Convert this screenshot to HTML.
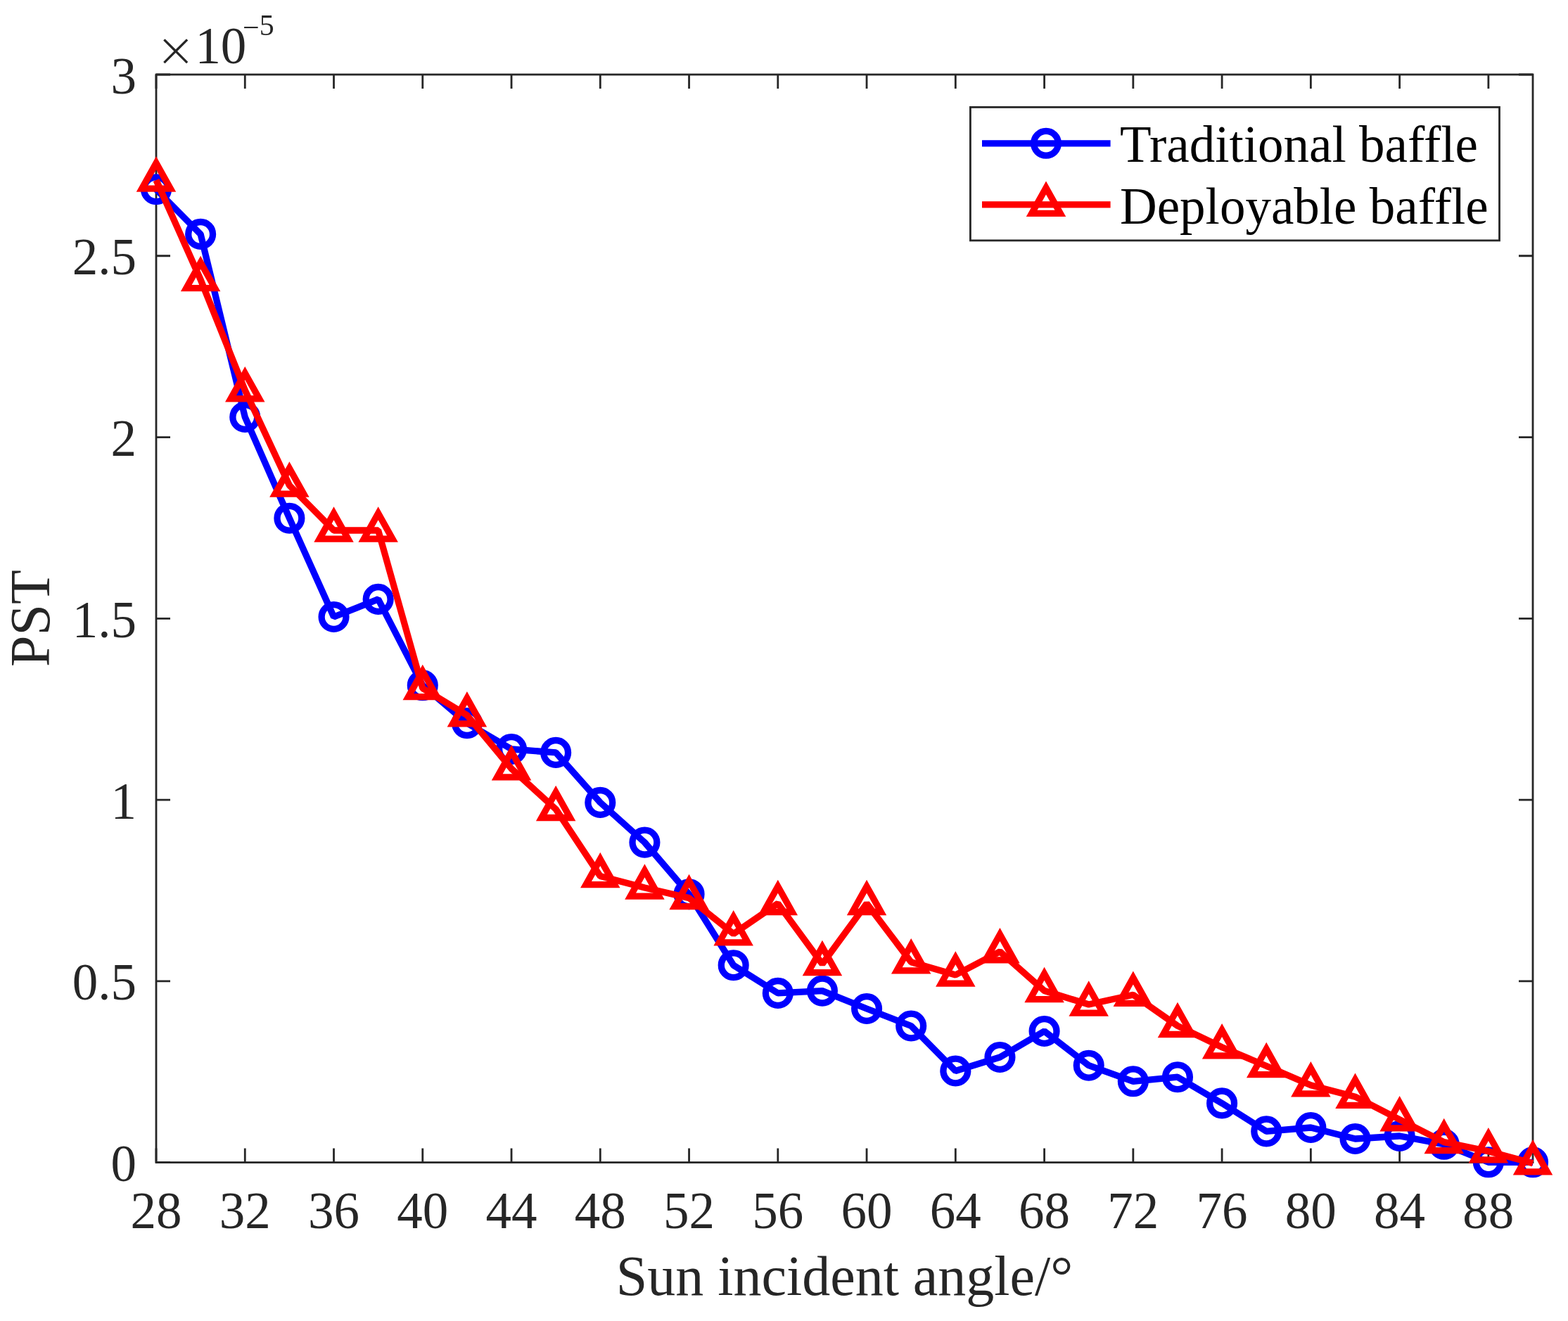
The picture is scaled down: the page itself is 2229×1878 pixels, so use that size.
<!DOCTYPE html><html><head><meta charset="utf-8"><title>PST vs Sun incident angle</title><style>html,body{margin:0;padding:0;background:#fff;overflow:hidden}svg{display:block}</style></head><body><svg width="2229" height="1878" viewBox="0 0 2229 1878">
<rect width="2229" height="1878" fill="#fff"/>
<g stroke="#262626" stroke-width="2.8" fill="none" stroke-linecap="square">
<rect x="222.0" y="106.0" width="1957.0" height="1546.6"/>
<path d="M222.00,1652.6V1632.6M222.00,106.0V126.0M348.26,1652.6V1632.6M348.26,106.0V126.0M474.52,1652.6V1632.6M474.52,106.0V126.0M600.77,1652.6V1632.6M600.77,106.0V126.0M727.03,1652.6V1632.6M727.03,106.0V126.0M853.29,1652.6V1632.6M853.29,106.0V126.0M979.55,1652.6V1632.6M979.55,106.0V126.0M1105.81,1652.6V1632.6M1105.81,106.0V126.0M1232.06,1652.6V1632.6M1232.06,106.0V126.0M1358.32,1652.6V1632.6M1358.32,106.0V126.0M1484.58,1652.6V1632.6M1484.58,106.0V126.0M1610.84,1652.6V1632.6M1610.84,106.0V126.0M1737.10,1652.6V1632.6M1737.10,106.0V126.0M1863.35,1652.6V1632.6M1863.35,106.0V126.0M1989.61,1652.6V1632.6M1989.61,106.0V126.0M2115.87,1652.6V1632.6M2115.87,106.0V126.0M222.0,1652.60H242.0M2179.0,1652.60H2159.0M222.0,1394.83H242.0M2179.0,1394.83H2159.0M222.0,1137.07H242.0M2179.0,1137.07H2159.0M222.0,879.30H242.0M2179.0,879.30H2159.0M222.0,621.53H242.0M2179.0,621.53H2159.0M222.0,363.77H242.0M2179.0,363.77H2159.0M222.0,106.00H242.0M2179.0,106.00H2159.0" stroke-linecap="butt"/>
</g>
<g font-family="Liberation Serif, Times New Roman, serif" font-size="73" fill="#262626">
<text x="222.00" y="1745.5" text-anchor="middle">28</text>
<text x="348.26" y="1745.5" text-anchor="middle">32</text>
<text x="474.52" y="1745.5" text-anchor="middle">36</text>
<text x="600.77" y="1745.5" text-anchor="middle">40</text>
<text x="727.03" y="1745.5" text-anchor="middle">44</text>
<text x="853.29" y="1745.5" text-anchor="middle">48</text>
<text x="979.55" y="1745.5" text-anchor="middle">52</text>
<text x="1105.81" y="1745.5" text-anchor="middle">56</text>
<text x="1232.06" y="1745.5" text-anchor="middle">60</text>
<text x="1358.32" y="1745.5" text-anchor="middle">64</text>
<text x="1484.58" y="1745.5" text-anchor="middle">68</text>
<text x="1610.84" y="1745.5" text-anchor="middle">72</text>
<text x="1737.10" y="1745.5" text-anchor="middle">76</text>
<text x="1863.35" y="1745.5" text-anchor="middle">80</text>
<text x="1989.61" y="1745.5" text-anchor="middle">84</text>
<text x="2115.87" y="1745.5" text-anchor="middle">88</text>
<text x="194" y="1679.10" text-anchor="end">0</text>
<text x="194" y="1421.33" text-anchor="end">0.5</text>
<text x="194" y="1163.57" text-anchor="end">1</text>
<text x="194" y="905.80" text-anchor="end">1.5</text>
<text x="194" y="648.03" text-anchor="end">2</text>
<text x="194" y="390.27" text-anchor="end">2.5</text>
<text x="194" y="132.50" text-anchor="end">3</text>
</g>
<text font-family="DejaVu Sans, sans-serif" font-weight="200" font-size="68" fill="#262626" x="221.3" y="94.2">&#215;</text>
<text font-family="Liberation Serif, Times New Roman, serif" font-size="73" fill="#262626" y="90"><tspan x="277.5">1</tspan><tspan x="313.8">0</tspan></text>
<text font-family="Liberation Serif, Times New Roman, serif" font-size="42" fill="#262626" y="50"><tspan x="345" dy="3.4">&#8722;</tspan><tspan dy="-3.4">5</tspan></text>
<text font-family="Liberation Serif, Times New Roman, serif" font-size="80" fill="#262626" x="1200.5" y="1841" text-anchor="middle">Sun incident angle/&#176;</text>
<text font-family="Liberation Serif, Times New Roman, serif" font-size="80" fill="#262626" transform="translate(70,879) rotate(-90)" text-anchor="middle">PST</text>
<polyline points="222.00,269.20 285.13,332.90 348.26,592.90 411.39,736.70 474.52,877.00 537.65,851.90 600.77,974.30 663.90,1028.10 727.03,1065.00 790.16,1069.90 853.29,1140.90 916.42,1197.60 979.55,1271.20 1042.68,1372.20 1105.81,1411.90 1168.94,1408.60 1232.06,1434.00 1295.19,1458.50 1358.32,1522.50 1421.45,1503.00 1484.58,1466.00 1547.71,1514.70 1610.84,1537.30 1673.97,1531.20 1737.10,1568.40 1800.23,1608.40 1863.35,1603.00 1926.48,1619.00 1989.61,1615.00 2052.74,1626.80 2115.87,1652.30 2179.00,1652.30" fill="none" stroke="#0000ff" stroke-width="9.3" stroke-linejoin="bevel" stroke-linecap="butt"/>
<circle cx="222.00" cy="269.20" r="17.4" fill="none" stroke="#0000ff" stroke-width="9.3"/>
<circle cx="285.13" cy="332.90" r="17.4" fill="none" stroke="#0000ff" stroke-width="9.3"/>
<circle cx="348.26" cy="592.90" r="17.4" fill="none" stroke="#0000ff" stroke-width="9.3"/>
<circle cx="411.39" cy="736.70" r="17.4" fill="none" stroke="#0000ff" stroke-width="9.3"/>
<circle cx="474.52" cy="877.00" r="17.4" fill="none" stroke="#0000ff" stroke-width="9.3"/>
<circle cx="537.65" cy="851.90" r="17.4" fill="none" stroke="#0000ff" stroke-width="9.3"/>
<circle cx="600.77" cy="974.30" r="17.4" fill="none" stroke="#0000ff" stroke-width="9.3"/>
<circle cx="663.90" cy="1028.10" r="17.4" fill="none" stroke="#0000ff" stroke-width="9.3"/>
<circle cx="727.03" cy="1065.00" r="17.4" fill="none" stroke="#0000ff" stroke-width="9.3"/>
<circle cx="790.16" cy="1069.90" r="17.4" fill="none" stroke="#0000ff" stroke-width="9.3"/>
<circle cx="853.29" cy="1140.90" r="17.4" fill="none" stroke="#0000ff" stroke-width="9.3"/>
<circle cx="916.42" cy="1197.60" r="17.4" fill="none" stroke="#0000ff" stroke-width="9.3"/>
<circle cx="979.55" cy="1271.20" r="17.4" fill="none" stroke="#0000ff" stroke-width="9.3"/>
<circle cx="1042.68" cy="1372.20" r="17.4" fill="none" stroke="#0000ff" stroke-width="9.3"/>
<circle cx="1105.81" cy="1411.90" r="17.4" fill="none" stroke="#0000ff" stroke-width="9.3"/>
<circle cx="1168.94" cy="1408.60" r="17.4" fill="none" stroke="#0000ff" stroke-width="9.3"/>
<circle cx="1232.06" cy="1434.00" r="17.4" fill="none" stroke="#0000ff" stroke-width="9.3"/>
<circle cx="1295.19" cy="1458.50" r="17.4" fill="none" stroke="#0000ff" stroke-width="9.3"/>
<circle cx="1358.32" cy="1522.50" r="17.4" fill="none" stroke="#0000ff" stroke-width="9.3"/>
<circle cx="1421.45" cy="1503.00" r="17.4" fill="none" stroke="#0000ff" stroke-width="9.3"/>
<circle cx="1484.58" cy="1466.00" r="17.4" fill="none" stroke="#0000ff" stroke-width="9.3"/>
<circle cx="1547.71" cy="1514.70" r="17.4" fill="none" stroke="#0000ff" stroke-width="9.3"/>
<circle cx="1610.84" cy="1537.30" r="17.4" fill="none" stroke="#0000ff" stroke-width="9.3"/>
<circle cx="1673.97" cy="1531.20" r="17.4" fill="none" stroke="#0000ff" stroke-width="9.3"/>
<circle cx="1737.10" cy="1568.40" r="17.4" fill="none" stroke="#0000ff" stroke-width="9.3"/>
<circle cx="1800.23" cy="1608.40" r="17.4" fill="none" stroke="#0000ff" stroke-width="9.3"/>
<circle cx="1863.35" cy="1603.00" r="17.4" fill="none" stroke="#0000ff" stroke-width="9.3"/>
<circle cx="1926.48" cy="1619.00" r="17.4" fill="none" stroke="#0000ff" stroke-width="9.3"/>
<circle cx="1989.61" cy="1615.00" r="17.4" fill="none" stroke="#0000ff" stroke-width="9.3"/>
<circle cx="2052.74" cy="1626.80" r="17.4" fill="none" stroke="#0000ff" stroke-width="9.3"/>
<circle cx="2115.87" cy="1652.30" r="17.4" fill="none" stroke="#0000ff" stroke-width="9.3"/>
<circle cx="2179.00" cy="1652.30" r="17.4" fill="none" stroke="#0000ff" stroke-width="9.3"/>
<polyline points="222.00,256.00 285.13,397.50 348.26,554.80 411.39,690.00 474.52,754.00 537.65,754.00 600.77,978.50 663.90,1016.80 727.03,1092.80 790.16,1150.40 853.29,1245.60 916.42,1262.00 979.55,1276.60 1042.68,1327.70 1105.81,1284.40 1168.94,1370.50 1232.06,1284.40 1295.19,1367.70 1358.32,1386.00 1421.45,1352.80 1484.58,1408.50 1547.71,1428.00 1610.84,1414.30 1673.97,1458.40 1737.10,1488.70 1800.23,1515.50 1863.35,1542.70 1926.48,1559.20 1989.61,1591.70 2052.74,1623.60 2115.87,1636.70 2179.00,1653.70" fill="none" stroke="#ff0000" stroke-width="9.3" stroke-linejoin="bevel" stroke-linecap="butt"/>
<path d="M222.00,231.80L242.30,268.10L201.70,268.10Z" fill="none" stroke="#ff0000" stroke-width="9.3" stroke-linejoin="miter" stroke-miterlimit="10"/>
<path d="M285.13,373.30L305.43,409.60L264.83,409.60Z" fill="none" stroke="#ff0000" stroke-width="9.3" stroke-linejoin="miter" stroke-miterlimit="10"/>
<path d="M348.26,530.60L368.56,566.90L327.96,566.90Z" fill="none" stroke="#ff0000" stroke-width="9.3" stroke-linejoin="miter" stroke-miterlimit="10"/>
<path d="M411.39,665.80L431.69,702.10L391.09,702.10Z" fill="none" stroke="#ff0000" stroke-width="9.3" stroke-linejoin="miter" stroke-miterlimit="10"/>
<path d="M474.52,729.80L494.82,766.10L454.22,766.10Z" fill="none" stroke="#ff0000" stroke-width="9.3" stroke-linejoin="miter" stroke-miterlimit="10"/>
<path d="M537.65,729.80L557.95,766.10L517.35,766.10Z" fill="none" stroke="#ff0000" stroke-width="9.3" stroke-linejoin="miter" stroke-miterlimit="10"/>
<path d="M600.77,954.30L621.07,990.60L580.47,990.60Z" fill="none" stroke="#ff0000" stroke-width="9.3" stroke-linejoin="miter" stroke-miterlimit="10"/>
<path d="M663.90,992.60L684.20,1028.90L643.60,1028.90Z" fill="none" stroke="#ff0000" stroke-width="9.3" stroke-linejoin="miter" stroke-miterlimit="10"/>
<path d="M727.03,1068.60L747.33,1104.90L706.73,1104.90Z" fill="none" stroke="#ff0000" stroke-width="9.3" stroke-linejoin="miter" stroke-miterlimit="10"/>
<path d="M790.16,1126.20L810.46,1162.50L769.86,1162.50Z" fill="none" stroke="#ff0000" stroke-width="9.3" stroke-linejoin="miter" stroke-miterlimit="10"/>
<path d="M853.29,1221.40L873.59,1257.70L832.99,1257.70Z" fill="none" stroke="#ff0000" stroke-width="9.3" stroke-linejoin="miter" stroke-miterlimit="10"/>
<path d="M916.42,1237.80L936.72,1274.10L896.12,1274.10Z" fill="none" stroke="#ff0000" stroke-width="9.3" stroke-linejoin="miter" stroke-miterlimit="10"/>
<path d="M979.55,1252.40L999.85,1288.70L959.25,1288.70Z" fill="none" stroke="#ff0000" stroke-width="9.3" stroke-linejoin="miter" stroke-miterlimit="10"/>
<path d="M1042.68,1303.50L1062.98,1339.80L1022.38,1339.80Z" fill="none" stroke="#ff0000" stroke-width="9.3" stroke-linejoin="miter" stroke-miterlimit="10"/>
<path d="M1105.81,1260.20L1126.11,1296.50L1085.51,1296.50Z" fill="none" stroke="#ff0000" stroke-width="9.3" stroke-linejoin="miter" stroke-miterlimit="10"/>
<path d="M1168.94,1346.30L1189.24,1382.60L1148.64,1382.60Z" fill="none" stroke="#ff0000" stroke-width="9.3" stroke-linejoin="miter" stroke-miterlimit="10"/>
<path d="M1232.06,1260.20L1252.36,1296.50L1211.76,1296.50Z" fill="none" stroke="#ff0000" stroke-width="9.3" stroke-linejoin="miter" stroke-miterlimit="10"/>
<path d="M1295.19,1343.50L1315.49,1379.80L1274.89,1379.80Z" fill="none" stroke="#ff0000" stroke-width="9.3" stroke-linejoin="miter" stroke-miterlimit="10"/>
<path d="M1358.32,1361.80L1378.62,1398.10L1338.02,1398.10Z" fill="none" stroke="#ff0000" stroke-width="9.3" stroke-linejoin="miter" stroke-miterlimit="10"/>
<path d="M1421.45,1328.60L1441.75,1364.90L1401.15,1364.90Z" fill="none" stroke="#ff0000" stroke-width="9.3" stroke-linejoin="miter" stroke-miterlimit="10"/>
<path d="M1484.58,1384.30L1504.88,1420.60L1464.28,1420.60Z" fill="none" stroke="#ff0000" stroke-width="9.3" stroke-linejoin="miter" stroke-miterlimit="10"/>
<path d="M1547.71,1403.80L1568.01,1440.10L1527.41,1440.10Z" fill="none" stroke="#ff0000" stroke-width="9.3" stroke-linejoin="miter" stroke-miterlimit="10"/>
<path d="M1610.84,1390.10L1631.14,1426.40L1590.54,1426.40Z" fill="none" stroke="#ff0000" stroke-width="9.3" stroke-linejoin="miter" stroke-miterlimit="10"/>
<path d="M1673.97,1434.20L1694.27,1470.50L1653.67,1470.50Z" fill="none" stroke="#ff0000" stroke-width="9.3" stroke-linejoin="miter" stroke-miterlimit="10"/>
<path d="M1737.10,1464.50L1757.40,1500.80L1716.80,1500.80Z" fill="none" stroke="#ff0000" stroke-width="9.3" stroke-linejoin="miter" stroke-miterlimit="10"/>
<path d="M1800.23,1491.30L1820.53,1527.60L1779.93,1527.60Z" fill="none" stroke="#ff0000" stroke-width="9.3" stroke-linejoin="miter" stroke-miterlimit="10"/>
<path d="M1863.35,1518.50L1883.65,1554.80L1843.05,1554.80Z" fill="none" stroke="#ff0000" stroke-width="9.3" stroke-linejoin="miter" stroke-miterlimit="10"/>
<path d="M1926.48,1535.00L1946.78,1571.30L1906.18,1571.30Z" fill="none" stroke="#ff0000" stroke-width="9.3" stroke-linejoin="miter" stroke-miterlimit="10"/>
<path d="M1989.61,1567.50L2009.91,1603.80L1969.31,1603.80Z" fill="none" stroke="#ff0000" stroke-width="9.3" stroke-linejoin="miter" stroke-miterlimit="10"/>
<path d="M2052.74,1599.40L2073.04,1635.70L2032.44,1635.70Z" fill="none" stroke="#ff0000" stroke-width="9.3" stroke-linejoin="miter" stroke-miterlimit="10"/>
<path d="M2115.87,1612.50L2136.17,1648.80L2095.57,1648.80Z" fill="none" stroke="#ff0000" stroke-width="9.3" stroke-linejoin="miter" stroke-miterlimit="10"/>
<path d="M2179.00,1629.50L2199.30,1665.80L2158.70,1665.80Z" fill="none" stroke="#ff0000" stroke-width="9.3" stroke-linejoin="miter" stroke-miterlimit="10"/>
<rect x="1379.4" y="152.4" width="752.0999999999999" height="189.49999999999997" fill="#fff" stroke="#262626" stroke-width="2.8"/>
<line x1="1396" y1="203.8" x2="1578.6" y2="203.8" stroke="#0000ff" stroke-width="9.3"/>
<circle cx="1487.00" cy="203.80" r="17.4" fill="none" stroke="#0000ff" stroke-width="9.3"/>
<line x1="1396" y1="290.8" x2="1578.6" y2="290.8" stroke="#ff0000" stroke-width="9.3"/>
<path d="M1487.00,267.00L1507.30,303.30L1466.70,303.30Z" fill="none" stroke="#ff0000" stroke-width="9.3" stroke-linejoin="miter" stroke-miterlimit="10"/>
<g font-family="Liberation Serif, Times New Roman, serif" font-size="73" fill="#000">
<text x="1592" y="229.9">Traditional baffle</text>
<text x="1592" y="318.2">Deployable baffle</text>
</g>
</svg></body></html>
